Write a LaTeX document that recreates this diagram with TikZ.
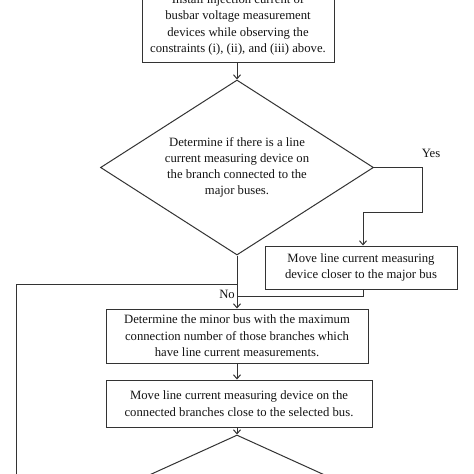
\documentclass[tikz,border=0pt]{standalone}
\usepackage{fontspec}
\setmainfont{Liberation Serif}
\usetikzlibrary{shapes.geometric,arrows.meta}
\begin{document}
\begin{tikzpicture}[x=1pt,y=-1pt,
  every node/.style={text=black!92, inner sep=0pt},
  procbox/.style={draw=black!80, line width=1pt, rectangle, align=center,
     font=\fontsize{12.7}{16.4}\selectfont},
  decbox/.style={draw=black!80, line width=1pt, diamond, align=center,
     font=\fontsize{12.7}{16.2}\selectfont},
  flow/.style={draw=black!80, line width=1pt},
  arrowed/.style={flow, -{Straight Barb[length=4pt,width=7pt]}},
  lbl/.style={font=\fontsize{12.7}{15}\selectfont}]
\useasboundingbox (0,0) rectangle (474,474);
\clip (0,0) rectangle (474,474);
\fill[white] (0,0) rectangle (474,474);

\node[procbox, minimum width=192pt, minimum height=74pt] (install) at (238,25)
  {Install injection current of\\busbar voltage measurement\\devices while observing the\\constraints (i), (ii), and (iii) above.};

\node[decbox, aspect=1.56, minimum width=273pt, minimum height=175pt] (dec1) at (237,167.5)
  {Determine if there is a line\\current measuring device on\\the branch connected to the\\major buses.};

\node[procbox, minimum width=192pt, minimum height=43pt] (move1) at (361,267.5)
  {Move line current measuring\\device closer to the major bus};

\node[procbox, minimum width=262pt, minimum height=54pt] (minor) at (237,336)
  {Determine the minor bus with the maximum\\connection number of those branches which\\have line current measurements.};

\node[procbox, minimum width=266pt, minimum height=47pt] (move2) at (239,403.5)
  {Move line current measuring device on the\\connected branches close to the selected bus.};

\node[draw=black!80, line width=1pt, diamond, aspect=2.2, minimum width=264pt, minimum height=120pt] (dec2) at (237,495) {};

\coordinate (yes1) at (422,167.5);
\coordinate (yes2) at (363,212);
\coordinate (back) at (363,296);
\coordinate (join) at (237,296);
\coordinate (loopjoin) at (237,284);
\coordinate (loopstart) at (16,480);

\draw[arrowed] (install.south -| dec1.north) -- (dec1.north);
\draw[arrowed] (dec1.east) -- (yes1) |- (yes2) -- (yes2 |- move1.north);
\draw[arrowed] (dec1.south) -- (dec1.south |- minor.north);
\draw[flow] (move1.south -| back) -- (back) -- (join);
\draw[flow] (loopstart) |- (loopjoin);
\draw[arrowed] (minor.south -| dec2.north) -- (move2.north -| dec2.north);
\draw[arrowed] (move2.south -| dec2.north) -- (dec2.north);

\node[lbl, anchor=center] (yeslbl) at (431,153) {Yes};
\node[lbl, anchor=east] (nolbl) at (235,294) {No};
\end{tikzpicture}
\end{document}
